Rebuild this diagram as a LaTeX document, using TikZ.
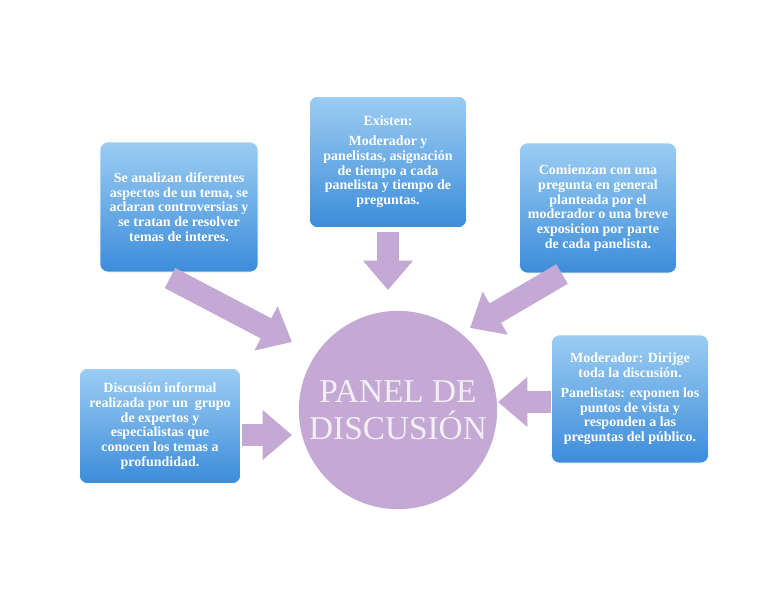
\documentclass[tikz,border=0pt]{standalone}
\usepackage{fontspec}
\setmainfont{Liberation Serif}
\usetikzlibrary{arrows.meta}
\definecolor{lila}{HTML}{C3A9D3}
\definecolor{lilatext}{HTML}{F3EEF6}
\definecolor{bluetop}{HTML}{9CCDF2}
\definecolor{bluebot}{HTML}{3C8CDA}
\tikzset{
    blue-box/.style = {rectangle, rounded corners=6pt, top color=bluetop, bottom color=bluebot, draw=white, text=white, align=center, font=\fontsize{10.5}{11}\selectfont\bfseries, inner sep=3pt},
    fat-arrow/.style = {draw=lila, line width=17pt, -{Triangle[length=22pt, width=36pt]}},
}
\begin{document}
\begin{tikzpicture}[x=0.75pt, y=-0.75pt]
\useasboundingbox (0,0) rectangle (768,594);
\fill[white] (0,0) rectangle (768,594);
% centro
\node [circle, fill=lila, minimum size=190*0.75pt, text=lilatext, align=center, font=\fontsize{25}{28}\selectfont] (panel) at (398,410) {PANEL DE\\DISCUSIÓN};
% cajas
\node [blue-box, minimum width=158*0.75pt, minimum height=130*0.75pt] (analizan) at (179,207) {Se analizan diferentes\\aspectos de un tema, se\\aclaran controversias y\\se tratan de resolver\\temas de interes.};
\node [blue-box, minimum width=157*0.75pt, minimum height=131*0.75pt] (existen) at (388,162) {Existen:\\[4pt] Moderador y\\panelistas, asignación\\de tiempo a cada\\panelista y tiempo de\\preguntas.};
\node [blue-box, minimum width=157*0.75pt, minimum height=130*0.75pt] (comienzan) at (598,208) {Comienzan con una\\pregunta en general\\planteada por el\\moderador o una breve\\exposicion por parte\\de cada panelista.};
\node [blue-box, minimum width=161*0.75pt, minimum height=115*0.75pt] (informal) at (160,426) {Discusión informal\\realizada por un~ grupo\\de expertos y\\especialistas que\\conocen los temas a\\profundidad.};
\node [blue-box, minimum width=157*0.75pt, minimum height=128*0.75pt] (roles) at (630,399) {Moderador: Dirijge\\toda la discusión.\\[4pt] Panelistas: exponen los\\puntos de vista y\\responden a las\\preguntas del público.};
% flechas
\coordinate (a1) at (170,278); \coordinate (b1) at (292,342);
\coordinate (a2) at (388,232); \coordinate (b2) at (388,290);
\coordinate (a3) at (562,274); \coordinate (b3) at (470,328);
\coordinate (a4) at (242,435); \coordinate (b4) at (292,435);
\coordinate (a5) at (551,402); \coordinate (b5) at (498,402);
\foreach \i in {1,...,5} \draw [fat-arrow] (a\i) -- (b\i);
\end{tikzpicture}
\end{document}
